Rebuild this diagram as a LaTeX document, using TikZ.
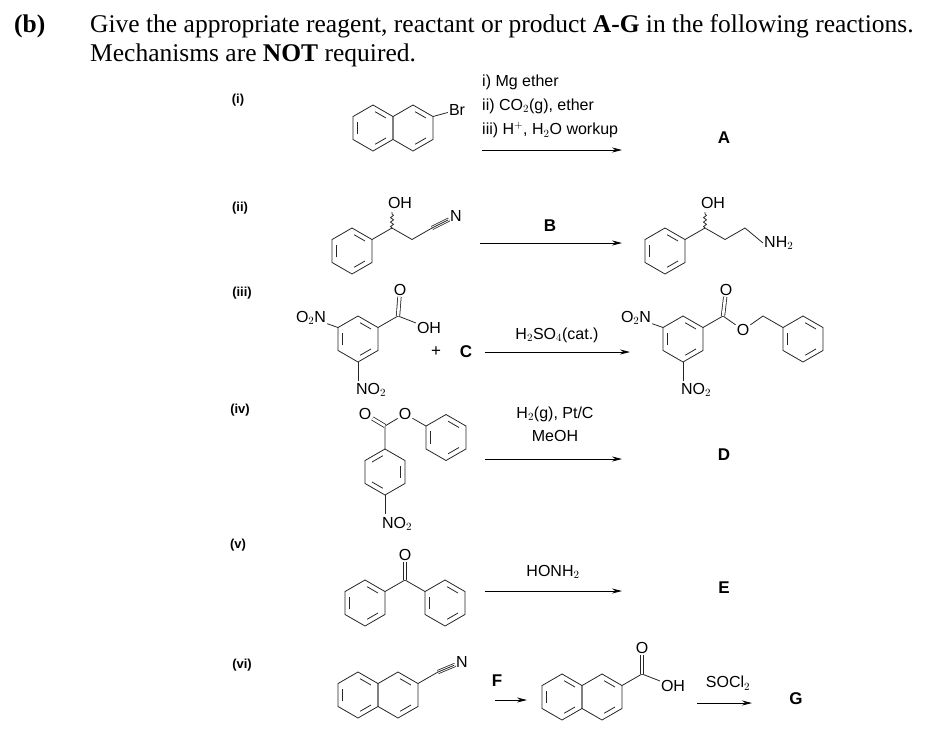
\documentclass[tikz,border=0pt]{standalone}
\usepackage{fontspec}
\setmainfont{Liberation Serif}
\newfontfamily\chemf{Liberation Sans}
\usetikzlibrary{arrows.meta,decorations.pathmorphing}
\newcommand\hexring[3]{%
  \draw[bond,shift={(#1,#2)}] (0,-23) -- (19.92,-11.5) -- (19.92,11.5) -- (0,23) -- (-19.92,11.5) -- (-19.92,-11.5) -- cycle;
  \foreach \k in {#3}{\draw[bond,shift={(#1,#2)},shorten <=2.5pt,shorten >=2.5pt]
    ({17.5*cos(-90+60*\k)},{17.5*sin(-90+60*\k)}) -- ({17.5*cos(-30+60*\k)},{17.5*sin(-30+60*\k)});}}
\tikzset{
  bond/.style={line width=0.8pt,black!85},
  dbl/.style={bond,double,double distance=2.6pt},
  lab/.style={font=\chemf\fontsize{16}{17}\selectfont,inner sep=1pt},
  blab/.style={font=\chemf\bfseries\fontsize{17}{18}\selectfont,inner sep=1pt},
  num/.style={font=\chemf\bfseries\fontsize{13}{14}\selectfont,inner sep=1pt},
  rxn/.style={line width=0.8pt,-{Stealth[length=10pt,width=5pt]}},
  wavy/.style={bond,decorate,decoration={snake,amplitude=1.5pt,segment length=4.5pt}},
}
\begin{document}
\begin{tikzpicture}[x=1pt,y=-1pt]
\useasboundingbox (0,0) rectangle (937,742);
% header
\node[anchor=base west,font=\fontsize{25.5}{28}\selectfont\bfseries,inner sep=0] (hb) at (14,32) {(b)};
\node[anchor=base west,font=\fontsize{25.5}{28}\selectfont,inner sep=0] (h1) at (90,32) {Give the appropriate reagent, reactant or product \textbf{A-G} in the following reactions.};
\node[anchor=base west,font=\fontsize{25.5}{28}\selectfont,inner sep=0] (h2) at (90,61) {Mechanisms are \textbf{NOT} required.};
% numbers
\node[num] (n1) at (238,100) {(i)};
\node[num] (n2) at (240,208) {(ii)};
\node[num] (n3) at (242,293) {(iii)};
\node[num] (n4) at (240,410) {(iv)};
\node[num] (n5) at (238,545) {(v)};
\node[num] (n6) at (242,665) {(vi)};

% (i)
\hexring{373}{128}{0,2,4}
\hexring{413}{128}{0,2}
\coordinate (i1) at (433,116.5);
\node[lab] (br) at (457,110) {Br};
\draw[bond] (i1) -- (br);
\node[lab,anchor=west] (r1a) at (481,82) {i) Mg ether};
\node[lab,anchor=west] (r1b) at (481,106) {ii) CO$_2$(g), ether};
\node[lab,anchor=west] (r1c) at (481,130) {iii) H$^+$, H$_2$O workup};
\coordinate (a1s) at (482,150); \coordinate (a1e) at (622,150);
\draw[rxn] (a1s) -- (a1e);
\node[blab] (A) at (724,138) {A};

% (ii)
\hexring{352}{251}{0,2,4}
\coordinate (u2) at (372,239.5); \coordinate (c21) at (392,228);
\coordinate (c22) at (412,239.5); \coordinate (c23) at (432,228);
\node[lab] (oh2) at (400,203) {OH};
\node[lab] (n2n) at (456,216) {N};
\draw[bond] (u2) -- (c21) -- (c22) -- (c23);
\draw[wavy] (c21) -- (392,212);
\draw[dbl] (c23) -- (n2n); \draw[bond,shorten >=1pt] (c23) -- (n2n);
\coordinate (a2s) at (480,243); \coordinate (a2e) at (622,243);
\draw[rxn] (a2s) -- (a2e);
\node[blab] (B) at (550,226) {B};
\hexring{665}{251}{0,2,4}
\coordinate (u2p) at (685,239.5); \coordinate (c21p) at (705,228);
\coordinate (c22p) at (725,239.5); \coordinate (c23p) at (745,228);
\node[lab] (oh2p) at (713,203) {OH};
\node[lab,anchor=west] (nh2) at (763,243) {NH$_2$};
\draw[bond] (u2p) -- (c21p) -- (c22p) -- (c23p) -- (nh2.west);
\draw[wavy] (c21p) -- (705,212);

% (iii)
\hexring{358}{339}{0,2,4}
\coordinate (ul3) at (338,327.5); \coordinate (ur3) at (378,327.5); \coordinate (b3) at (358,362);
\coordinate (cc3) at (398,316);
\node[lab] (o3) at (400,290) {O};
\node[lab] (oh3) at (429,328) {OH};
\node[lab] (o2n3) at (311,318) {O$_2$N};
\node[lab] (no23) at (371,390) {NO$_2$};
\draw[bond] (ur3) -- (cc3) -- (oh3);
\draw[dbl] (cc3) -- (o3);
\draw[bond] (ul3) -- (o2n3);
\draw[bond] (b3) -- (358,381);
\node[lab,font=\chemf\fontsize{17}{18}\selectfont] (plus) at (436,352) {+};
\node[blab] (C) at (466,352) {C};
\coordinate (a3s) at (485,352); \coordinate (a3e) at (630,352);
\draw[rxn] (a3s) -- (a3e);
\node[lab] (h2so4) at (557,335) {H$_2$SO$_4$(cat.)};
\hexring{683}{339}{0,2,4}
\coordinate (ul3p) at (663,327.5); \coordinate (ur3p) at (703,327.5); \coordinate (b3p) at (683,362);
\coordinate (cc3p) at (723,316); \coordinate (ch3p) at (763,316); \coordinate (bz) at (783,327.5);
\node[lab] (o3p) at (726,290) {O};
\node[lab] (oe3p) at (743,330) {O};
\node[lab] (o2n3p) at (636,318) {O$_2$N};
\node[lab] (no23p) at (696,390) {NO$_2$};
\draw[bond] (ur3p) -- (cc3p) -- (oe3p) -- (ch3p) -- (bz);
\draw[dbl] (cc3p) -- (o3p);
\draw[bond] (ul3p) -- (o2n3p);
\draw[bond] (b3p) -- (683,381);
\hexring{803}{339}{0,2,4}

% (iv)
\hexring{385}{472}{1,3,5}
\coordinate (t4) at (385,449); \coordinate (cc4) at (385,426); \coordinate (b4) at (385,495);
\coordinate (ph4) at (426,426);
\node[lab] (o4) at (365,414) {O};
\node[lab] (oe4) at (405,414) {O};
\node[lab] (no24) at (397,524) {NO$_2$};
\draw[bond] (t4) -- (cc4) -- (oe4) -- (ph4);
\draw[dbl] (cc4) -- (o4);
\draw[bond] (b4) -- (385,514);
\hexring{446}{437.5}{0,2,4}
\coordinate (a4s) at (485,459); \coordinate (a4e) at (622,459);
\draw[rxn] (a4s) -- (a4e);
\node[lab] (r4a) at (555,414) {H$_2$(g), Pt/C};
\node[lab] (r4b) at (555,436) {MeOH};
\node[blab] (D) at (724,455) {D};

% (v)
\hexring{365}{603}{0,2,4}
\hexring{445}{603}{0,2,4}
\coordinate (cc5) at (405,580);
\node[lab] (o5) at (405,555) {O};
\draw[bond] (385,591.5) -- (cc5) -- (425,591.5);
\draw[dbl] (cc5) -- (o5);
\coordinate (a5s) at (485,591); \coordinate (a5e) at (622,591);
\draw[rxn] (a5s) -- (a5e);
\node[lab] (r5) at (553,572) {HONH$_2$};
\node[blab] (E) at (724,588) {E};

% (vi)
\hexring{358}{695}{0,2,4}
\hexring{398}{695}{0,2}
\coordinate (u6) at (418,683.5); \coordinate (c6) at (438,672);
\node[lab] (n6n) at (462,662) {N};
\draw[bond] (u6) -- (c6);
\draw[dbl] (c6) -- (n6n); \draw[bond,shorten >=1pt] (c6) -- (n6n);
\node[blab] (F) at (497,681) {F};
\coordinate (a6s) at (495,700); \coordinate (a6e) at (527,700);
\draw[rxn] (a6s) -- (a6e);
\hexring{562}{697}{0,2,4}
\hexring{602}{697}{0,2}
\coordinate (u6p) at (622,685.5); \coordinate (cc6) at (642,674);
\node[lab] (o6) at (642,648) {O};
\node[lab] (oh6) at (673,686) {OH};
\draw[bond] (u6p) -- (cc6) -- (oh6);
\draw[dbl] (cc6) -- (o6);
\node[lab] (socl2) at (728,683) {SOCl$_2$};
\coordinate (a7s) at (697,703); \coordinate (a7e) at (752,703);
\draw[rxn] (a7s) -- (a7e);
\node[blab] (G) at (796,699) {G};
\end{tikzpicture}
\end{document}
